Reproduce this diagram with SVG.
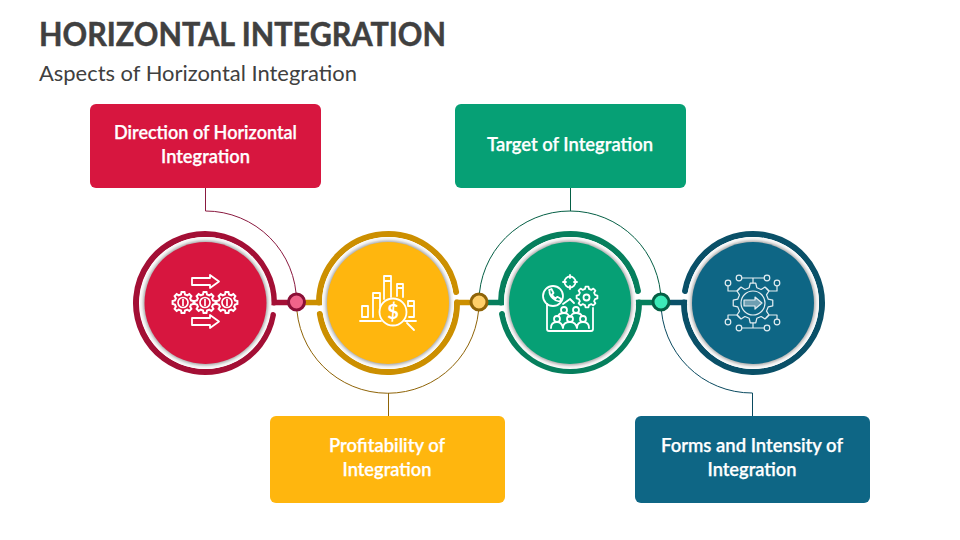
<svg xmlns="http://www.w3.org/2000/svg" width="960" height="540" viewBox="0 0 960 540">
<style>
text{font-family:Lato,"Open Sans","Liberation Sans",sans-serif}
.title{font-size:32px;font-weight:700;fill:#404040;stroke:#404040;stroke-width:.5}
.sub{font-size:21px;fill:#404040}
.lab{font-size:19px;font-weight:600;fill:#fff;text-anchor:middle;stroke:#fff;stroke-width:.25}
.ring{fill:none;stroke-width:6;stroke-linecap:round}
.flat{fill:none;stroke-width:5.5}
.thin{fill:none;stroke-width:1}
.ic{fill:none;stroke:#fff;stroke-width:1.8;stroke-linejoin:round;stroke-linecap:round}
.ic2{fill:none;stroke:#e3edf1;stroke-width:1.2;stroke-linejoin:round}
</style>
<defs>
<radialGradient id="halo"><stop offset="0.925" stop-color="#b5b5b5"/><stop offset="0.965" stop-color="#ececec"/><stop offset="1" stop-color="#fff"/></radialGradient>
<polygon id="gear8" points="8.05,-2.01 10.4,-1.46 10.4,1.46 8.05,2.01 7.11,4.27 8.39,6.32 6.32,8.39 4.27,7.11 2.01,8.05 1.46,10.4 -1.46,10.4 -2.01,8.05 -4.27,7.11 -6.32,8.39 -8.39,6.32 -7.11,4.27 -8.05,2.01 -10.4,1.46 -10.4,-1.46 -8.05,-2.01 -7.11,-4.27 -8.39,-6.32 -6.32,-8.39 -4.27,-7.11 -2.01,-8.05 -1.46,-10.4 1.46,-10.4 2.01,-8.05 4.27,-7.11 6.32,-8.39 8.39,-6.32 7.11,-4.27"/>
<g id="gear1" fill="none" stroke="#fff"><use href="#gear8" stroke-width="2"/><circle r="5" stroke-width="1.7"/><path d="M0-3.500V3.500" stroke-width="1.700"/></g>
</defs>
<text class="title" x="39" y="45.500" textLength="407" lengthAdjust="spacingAndGlyphs">HORIZONTAL INTEGRATION</text>
<text class="sub" x="39" y="81" textLength="318" lengthAdjust="spacingAndGlyphs">Aspects of Horizontal Integration</text>

<g id="connectors">
<path class="thin" stroke="#8a1a40" d="M205.500 188V211A91 91 0 0 1 296.500 302"/>
<path class="thin" stroke="#8f6408" d="M296.500 302A91 91 0 0 0 479 302M388.500 393V416"/>
<path class="thin" stroke="#055f45" d="M479 302A91 91 0 0 1 661 302M570.500 188V211"/>
<path class="thin" stroke="#0a4a60" d="M661 302A91 91 0 0 0 752.500 393V416"/>
<path class="flat" stroke="#a30f35" d="M270 302.500H296"/>
<path class="flat" stroke="#cc8f00" d="M296 302.500H322M455 302.500H479"/>
<path class="flat" stroke="#067f5d" d="M479 302.500H504M634 302.500H661"/>
<path class="flat" stroke="#0a5068" d="M661 302.500H688"/>
</g>

<g id="node-direction">
<rect x="90" y="104" width="231" height="84" rx="6" fill="#d7163f"/>
<text class="lab" x="205.500" y="139" textLength="183" lengthAdjust="spacingAndGlyphs">Direction of Horizontal</text>
<text class="lab" x="205.500" y="163" textLength="89" lengthAdjust="spacingAndGlyphs">Integration</text>
<path class="ring" stroke="#a30f35" d="M274 302.500A69 69 0 1 0 272.950 315"/>
<circle cx="205.500" cy="303" r="66" fill="url(#halo)"/>
<circle cx="205.500" cy="303" r="61" fill="#d7163f"/>
<path class="ic" stroke-width="2" d="M192 278H210V275L219 281.500 210 288V285H192ZM192 318H210V315L219 321.500 210 328V325H192Z"/>
<use href="#gear1" x="183" y="302.500"/><use href="#gear1" x="205" y="302.500"/><use href="#gear1" x="227" y="302.500"/>
</g>

<g id="node-profitability">
<rect x="270" y="416" width="235" height="87" rx="6" fill="#ffb60e"/>
<text class="lab" x="387" y="452" textLength="116" lengthAdjust="spacingAndGlyphs">Profitability of</text>
<text class="lab" x="387" y="476" textLength="89" lengthAdjust="spacingAndGlyphs">Integration</text>
<path class="ring" stroke="#cc8f00" d="M319 302.500A69 69 0 0 1 456.120 292"/>
<path class="ring" stroke="#cc8f00" d="M457 302.500A69 69 0 0 1 319.880 314"/>
<circle cx="388" cy="303" r="66" fill="url(#halo)"/>
<circle cx="388" cy="303" r="61" fill="#ffb60e"/>
<path class="ic" d="M362 306h6v11h-6zM373 317V293h7v14M373 298h7M384 299V276h7v21M384 281h7M397 296V284h6v13M397 288h6M408 306v-5h6v16h-5M408 306h6M360 321h21M405 321h11M407 323l7 7"/>
<circle class="ic" cx="393" cy="312" r="13.500"/>
<text x="393" y="319" font-size="20" font-weight="700" fill="#fff" text-anchor="middle">$</text>
</g>

<g id="node-target">
<rect x="455" y="104" width="231" height="84" rx="6" fill="#06a075"/>
<text class="lab" x="570" y="151" textLength="166" lengthAdjust="spacingAndGlyphs">Target of Integration</text>
<path class="ring" stroke="#067f5d" d="M501 302.500A69 69 0 0 1 637.950 291"/>
<path class="ring" stroke="#067f5d" d="M639 302.500A69 69 0 0 1 502.050 314"/>
<circle cx="570" cy="303" r="66" fill="url(#halo)"/>
<circle cx="570" cy="303" r="61" fill="#06a075"/>
<g class="ic">
<circle cx="553" cy="296" r="10"/>
<path d="M549 290l2.500-1 2 4-1.500 1.500c.8 1.800 2 3 3.700 3.800l1.500-1.500 3.800 2-1 2.500c-5 .5-11-5-10.500-11z"/>
<circle cx="570" cy="282" r="5.500"/><path d="M570 275v3M570 286v3M563 282h3M574 282h3"/>
<use href="#gear8" x="587" y="297"/><circle cx="586.500" cy="297.500" r="3"/>
<path d="M547 304V329a2 2 0 0 0 2 2H591a2 2 0 0 0 2-2V308M563 304l7-5 4 4"/>
<circle cx="564" cy="310" r="3"/><circle cx="576" cy="310" r="3"/><circle cx="557" cy="319" r="3"/><circle cx="570" cy="319" r="3"/><circle cx="583" cy="319" r="3"/>
<path d="M551 328c0-5 3-6 6-6s5 1 6 6M563 328c0-5 4-6 7-6s6 1 7 6M577 328c0-5 3-6 6-6s6 1 6 6M558 316c1-2 3-3 6-3s5 2 5 4M571 317c0-2 2-4 5-4s5 1 6 3"/>
</g>
</g>

<g id="node-forms">
<rect x="635" y="416" width="235" height="87" rx="6" fill="#0e6685"/>
<text class="lab" x="752" y="452" textLength="182" lengthAdjust="spacingAndGlyphs">Forms and Intensity of</text>
<text class="lab" x="752" y="476" textLength="89" lengthAdjust="spacingAndGlyphs">Integration</text>
<path class="ring" stroke="#0a5068" d="M685.050 291A69 69 0 1 1 684 302.500"/>
<circle cx="753" cy="303" r="66" fill="url(#halo)"/>
<circle cx="753" cy="303" r="61" fill="#0e6685"/>
<g class="ic2">
<circle cx="753" cy="303" r="12"/>
<use href="#gear8" transform="translate(753 303) scale(1.9)" stroke-width="0.65"/>
<path d="M744 300H755V297L762 303 755 309V306H744Z" fill="#6f9fb2"/>
<circle cx="739" cy="278" r="2.800"/><circle cx="767" cy="278" r="2.800"/><circle cx="728" cy="283" r="2.800"/><circle cx="777" cy="283" r="2.800"/>
<circle cx="739" cy="328" r="2.800"/><circle cx="767" cy="328" r="2.800"/><circle cx="728" cy="322" r="2.800"/><circle cx="777" cy="322" r="2.800"/>
<path d="M742 278H764M753 278V283M728 286V291H737L740 288M777 286V291H769L766 288M742 328H764M753 328V323M728 319V315H737L740 318M777 319V315H769L766 318"/>
</g>
</g>

<g id="dot-1"><circle cx="296.500" cy="302" r="8" fill="#f0648a" stroke="#8a0f36" stroke-width="3"/></g>
<g id="dot-2"><circle cx="479" cy="302" r="8" fill="#ffcf6a" stroke="#8f6408" stroke-width="3"/></g>
<g id="dot-3"><circle cx="661" cy="302" r="8" fill="#3debb8" stroke="#055f45" stroke-width="3"/></g>
</svg>
